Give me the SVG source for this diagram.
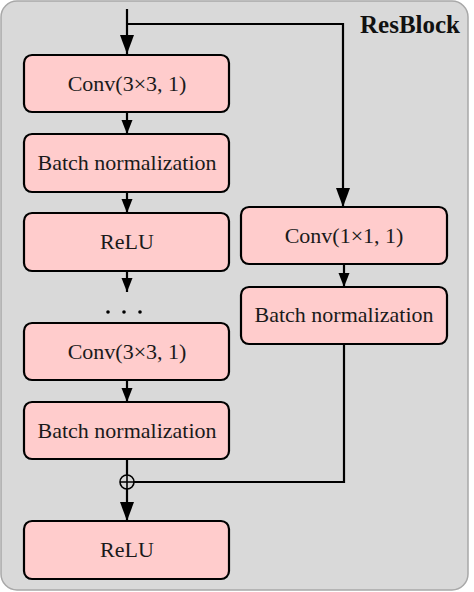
<svg xmlns="http://www.w3.org/2000/svg" width="474" height="592" viewBox="0 0 474 592">
<style>
.box{fill:#ffcccc;stroke:#000;stroke-width:2.2}
.lbl{font-family:"Liberation Serif","Times New Roman",serif;font-size:22px;fill:#1a1a1a;text-anchor:middle}
.ln{fill:none;stroke:#000;stroke-width:2.2}
</style>
<defs>
<marker id="big" markerUnits="userSpaceOnUse" markerWidth="14" markerHeight="20" refX="14" refY="7" orient="auto" viewBox="0 0 14 20" overflow="visible">
<path d="M0,0 L19,7 L0,14 Z" transform="translate(-5,0)" fill="#000"/>
</marker>
<marker id="sm" markerUnits="userSpaceOnUse" markerWidth="14" markerHeight="11" refX="14" refY="5.5" orient="auto" viewBox="0 0 14 11" overflow="visible">
<path d="M0,0 L14,5.5 L0,11 Z" fill="#000"/>
</marker>
</defs>
<rect x="1" y="1" width="467" height="589" rx="16" fill="#d9d9d9" stroke="#a8a8a8" stroke-width="1.5"/>
<text x="460" y="33" font-family="Liberation Serif,'Times New Roman',serif" font-size="25" font-weight="bold" text-anchor="end" fill="#111">ResBlock</text>
<g id="connectors">
<path class="ln" d="M127,9 V54" marker-end="url(#big)"/>
<path class="ln" d="M127,24 H343 V207" marker-end="url(#big)"/>
<path class="ln" d="M127,112 V134" marker-end="url(#sm)"/>
<path class="ln" d="M127,192 V213" marker-end="url(#sm)"/>
<path class="ln" d="M127,271 V292" marker-end="url(#sm)"/>
<path class="ln" d="M127,380 V402" marker-end="url(#sm)"/>
<path class="ln" d="M344,264 V287" marker-end="url(#sm)"/>
<path class="ln" d="M127,459 V475"/>
<path class="ln" d="M127,489 V521" marker-end="url(#big)"/>
<path class="ln" d="M134,482 H344 V344"/>
<circle cx="127" cy="482" r="7" fill="none" stroke="#000" stroke-width="1.6"/>
<path d="M120,482 H134 M127,475 V489" stroke="#000" stroke-width="1.6"/>
<circle cx="108" cy="312" r="1.8" fill="#000"/>
<circle cx="124" cy="312" r="1.8" fill="#000"/>
<circle cx="140" cy="312" r="1.8" fill="#000"/>
</g>
<g id="conv1"><rect class="box" x="24" y="55" width="205" height="57" rx="8"/><text class="lbl" x="127" y="91">Conv(3×3, 1)</text></g>
<g id="bn1"><rect class="box" x="24" y="134" width="205" height="58" rx="8"/><text class="lbl" x="127" y="170">Batch normalization</text></g>
<g id="relu1"><rect class="box" x="24" y="213" width="205" height="58" rx="8"/><text class="lbl" x="127" y="249">ReLU</text></g>
<g id="conv2"><rect class="box" x="24" y="323" width="205" height="57" rx="8"/><text class="lbl" x="127" y="359">Conv(3×3, 1)</text></g>
<g id="bn2"><rect class="box" x="24" y="402" width="205" height="57" rx="8"/><text class="lbl" x="127" y="438">Batch normalization</text></g>
<g id="relu2"><rect class="box" x="24" y="521" width="205" height="58" rx="8"/><text class="lbl" x="127" y="557">ReLU</text></g>
<g id="conv3"><rect class="box" x="241" y="207" width="206" height="57" rx="8"/><text class="lbl" x="344" y="243">Conv(1×1, 1)</text></g>
<g id="bn3"><rect class="box" x="241" y="287" width="206" height="57" rx="8"/><text class="lbl" x="344" y="322">Batch normalization</text></g>
</svg>
